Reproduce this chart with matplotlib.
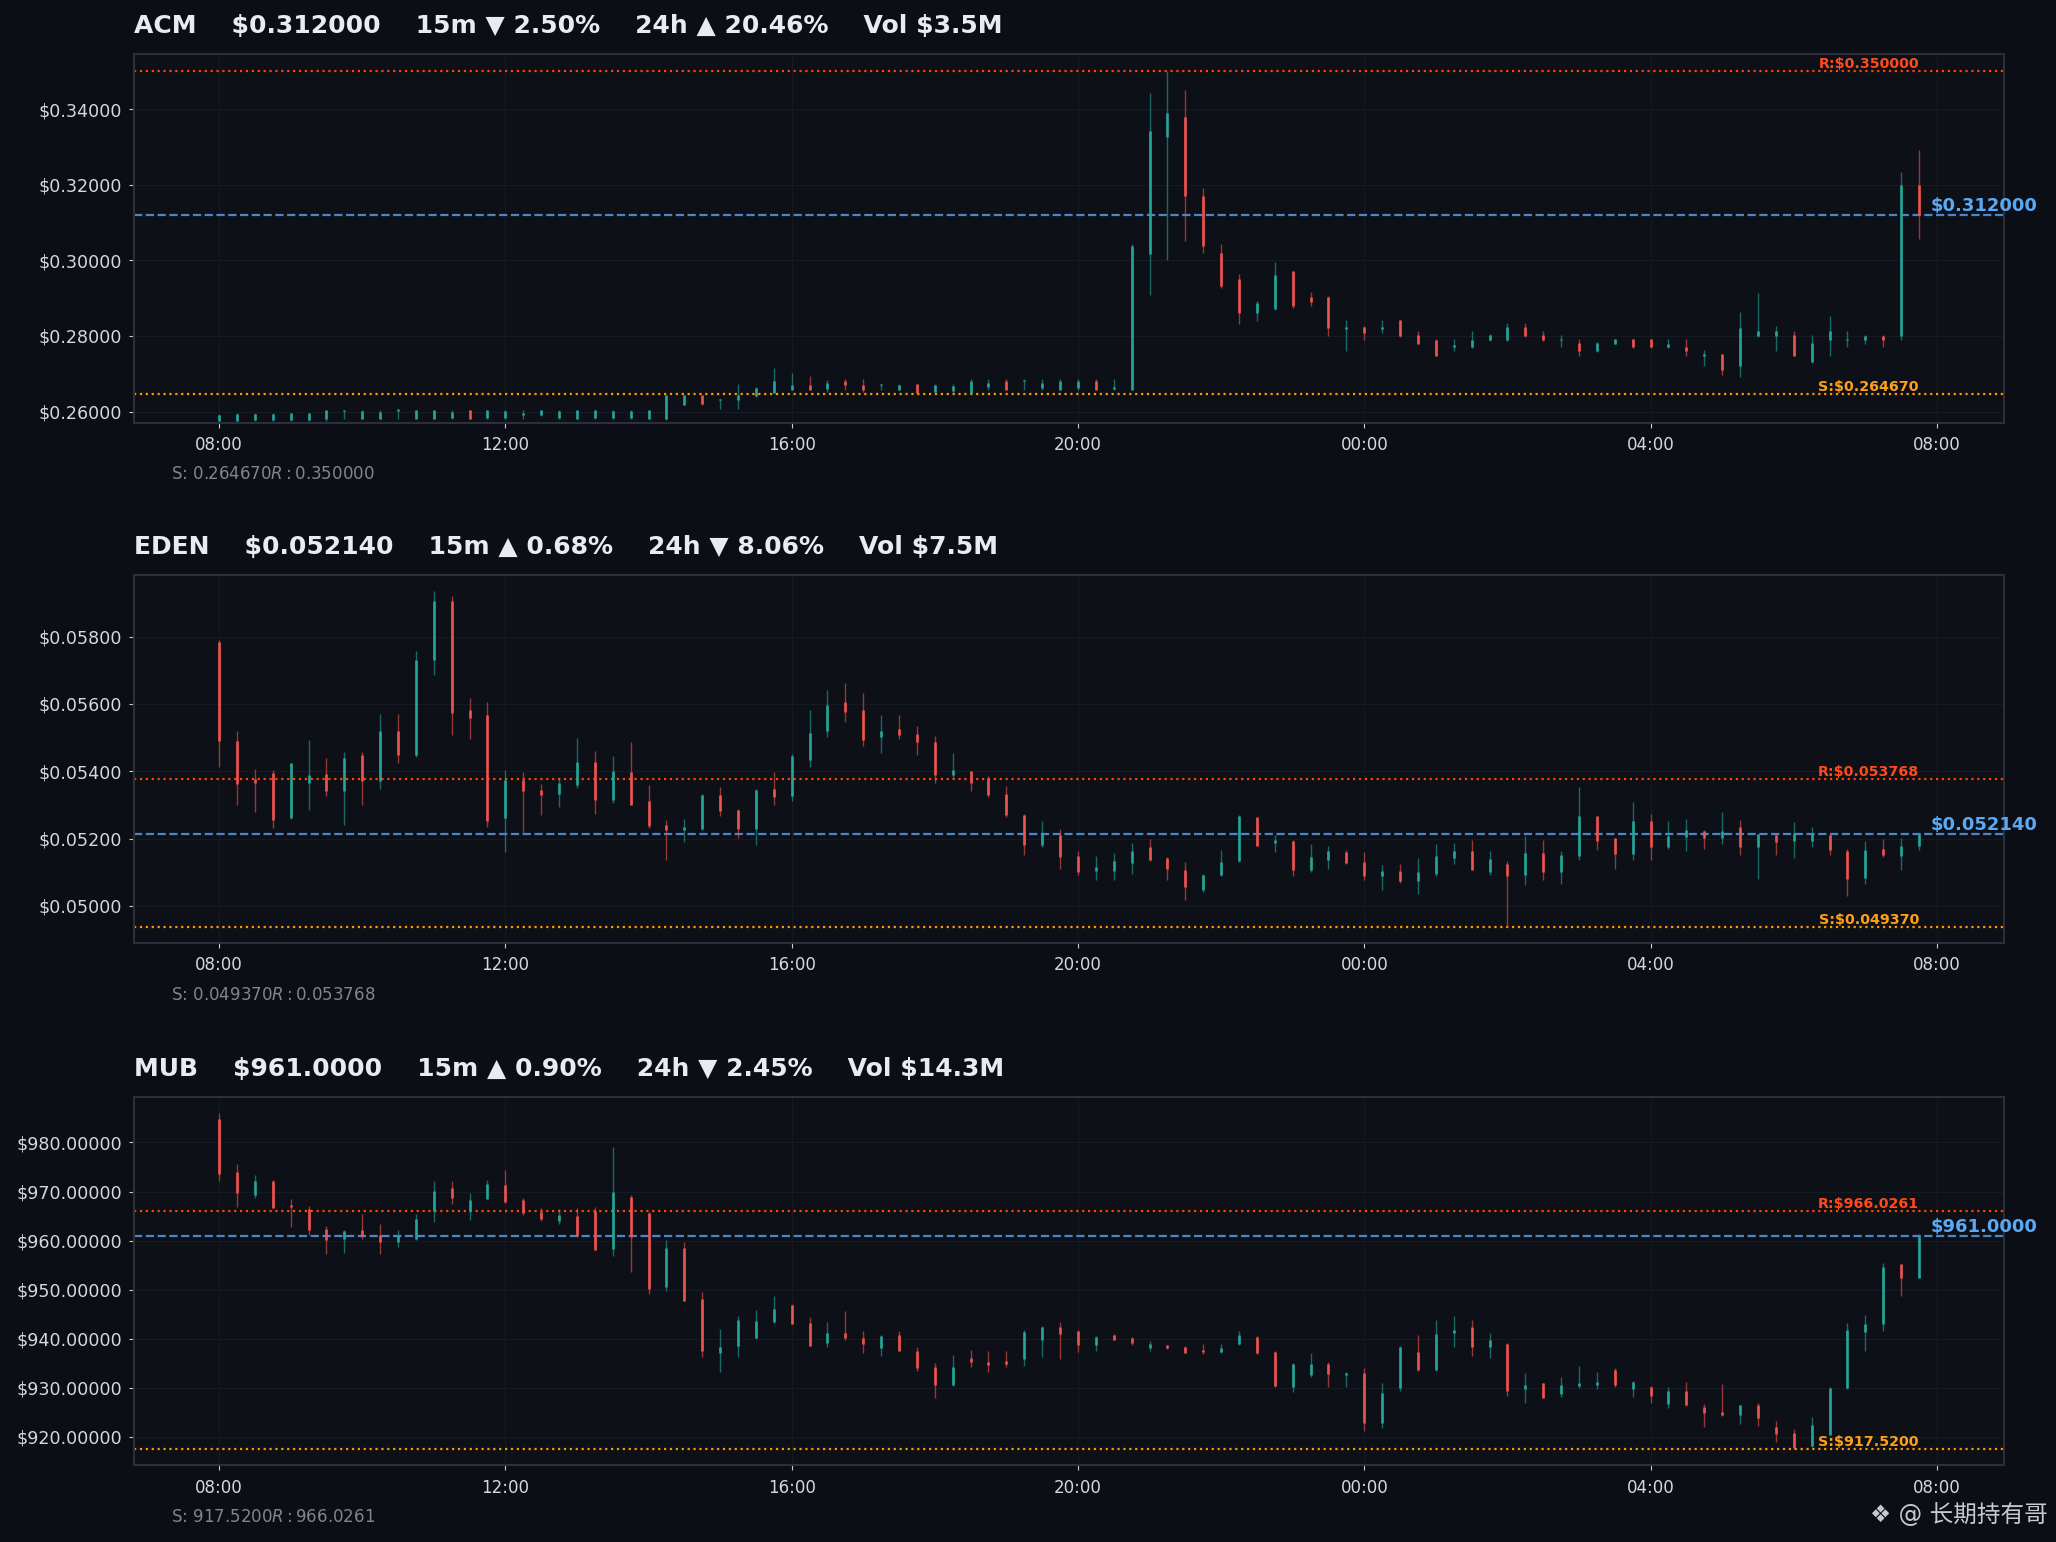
import numpy as np
import pandas as pd
import matplotlib
matplotlib.use('Agg')
import matplotlib.pyplot as plt
import matplotlib.dates as mdates
from matplotlib.ticker import MultipleLocator, FuncFormatter

BG = '#0b0e14'
AX_BG = '#0d1017'
GREEN = '#26a69a'
RED = '#ef5350'

times = pd.date_range('2024-01-01 08:00', periods=96, freq='15min')

# ---- ACM ----
acm_open = [0.2575, 0.2576, 0.2577, 0.2577, 0.2578, 0.2578, 0.2580, 0.2601, 0.2580, 0.2581,
            0.2602, 0.2581, 0.2581, 0.2582, 0.2603, 0.2582, 0.2582, 0.2592, 0.2590, 0.2582,
            0.2580, 0.2582, 0.2582, 0.2582, 0.2580, 0.2580, 0.2618, 0.2643, 0.2630, 0.2630,
            0.2640, 0.2649, 0.2658, 0.2671, 0.2660, 0.2682, 0.2671, 0.2670, 0.2658, 0.2673,
            0.2652, 0.2655, 0.2649, 0.2665, 0.2682, 0.2680, 0.2662, 0.2658, 0.2662, 0.2682,
            0.2660, 0.2658, 0.3017, 0.3327, 0.3379, 0.3171, 0.3019, 0.2951, 0.2861, 0.2871,
            0.2971, 0.2903, 0.2903, 0.2818, 0.2823, 0.2819, 0.2841, 0.2803, 0.2790, 0.2770,
            0.2770, 0.2788, 0.2788, 0.2823, 0.2803, 0.2788, 0.2781, 0.2759, 0.2780, 0.2792,
            0.2792, 0.2772, 0.2770, 0.2748, 0.2751, 0.2720, 0.2799, 0.2799, 0.2803, 0.2730,
            0.2788, 0.2789, 0.2788, 0.2801, 0.2799, 0.3200]
acm_high = [0.2594, 0.2595, 0.2596, 0.2596, 0.2596, 0.2596, 0.2605, 0.2605, 0.2605, 0.2605,
            0.2605, 0.2604, 0.2605, 0.2605, 0.2605, 0.2605, 0.2605, 0.2605, 0.2605, 0.2605,
            0.2605, 0.2605, 0.2605, 0.2605, 0.2605, 0.2645, 0.2645, 0.2645, 0.2634, 0.2674,
            0.2664, 0.2714, 0.2703, 0.2695, 0.2684, 0.2685, 0.2685, 0.2674, 0.2674, 0.2674,
            0.2674, 0.2674, 0.2685, 0.2685, 0.2685, 0.2685, 0.2685, 0.2685, 0.2685, 0.2685,
            0.2685, 0.3043, 0.3442, 0.3500, 0.3452, 0.3191, 0.3043, 0.2965, 0.2893, 0.2995,
            0.2973, 0.2915, 0.2905, 0.2843, 0.2825, 0.2843, 0.2843, 0.2814, 0.2792, 0.2792,
            0.2814, 0.2805, 0.2834, 0.2834, 0.2814, 0.2803, 0.2792, 0.2784, 0.2793, 0.2793,
            0.2793, 0.2792, 0.2792, 0.2764, 0.2753, 0.2863, 0.2914, 0.2825, 0.2814, 0.2803,
            0.2854, 0.2814, 0.2803, 0.2803, 0.3233, 0.3292]
acm_low = [0.2574, 0.2574, 0.2575, 0.2575, 0.2575, 0.2575, 0.2575, 0.2579, 0.2579, 0.2579,
           0.2579, 0.2579, 0.2579, 0.2579, 0.2579, 0.2579, 0.2579, 0.2579, 0.2589, 0.2579,
           0.2579, 0.2579, 0.2579, 0.2579, 0.2579, 0.2578, 0.2617, 0.2617, 0.2608, 0.2608,
           0.2639, 0.2648, 0.2657, 0.2657, 0.2651, 0.2658, 0.2651, 0.2658, 0.2657, 0.2649,
           0.2649, 0.2649, 0.2648, 0.2658, 0.2658, 0.2658, 0.2658, 0.2657, 0.2658, 0.2658,
           0.2658, 0.2657, 0.2909, 0.3000, 0.3050, 0.3019, 0.2928, 0.2832, 0.2839, 0.2868,
           0.2875, 0.2878, 0.2799, 0.2759, 0.2788, 0.2808, 0.2797, 0.2778, 0.2746, 0.2759,
           0.2769, 0.2787, 0.2787, 0.2797, 0.2787, 0.2770, 0.2748, 0.2757, 0.2778, 0.2768,
           0.2768, 0.2769, 0.2748, 0.2720, 0.2698, 0.2691, 0.2797, 0.2759, 0.2746, 0.2729,
           0.2748, 0.2770, 0.2780, 0.2770, 0.2788, 0.3057]
acm_close = [0.2592, 0.2593, 0.2594, 0.2594, 0.2595, 0.2595, 0.2604, 0.2603, 0.2602, 0.2600,
             0.2603, 0.2603, 0.2604, 0.2600, 0.2581, 0.2603, 0.2601, 0.2593, 0.2603, 0.2602,
             0.2604, 0.2603, 0.2601, 0.2602, 0.2604, 0.2643, 0.2643, 0.2619, 0.2632, 0.2643,
             0.2663, 0.2682, 0.2671, 0.2658, 0.2675, 0.2669, 0.2658, 0.2672, 0.2671, 0.2649,
             0.2670, 0.2668, 0.2682, 0.2675, 0.2658, 0.2682, 0.2676, 0.2682, 0.2680, 0.2658,
             0.2665, 0.3037, 0.3341, 0.3389, 0.3169, 0.3039, 0.2932, 0.2861, 0.2887, 0.2962,
             0.2878, 0.2891, 0.2821, 0.2824, 0.2808, 0.2821, 0.2799, 0.2780, 0.2748, 0.2777,
             0.2790, 0.2803, 0.2823, 0.2799, 0.2788, 0.2792, 0.2759, 0.2781, 0.2792, 0.2770,
             0.2770, 0.2778, 0.2759, 0.2753, 0.2711, 0.2821, 0.2812, 0.2812, 0.2748, 0.2781,
             0.2812, 0.2792, 0.2799, 0.2788, 0.3200, 0.3120]

# ---- EDEN ----
eden_open = [0.057829, 0.054907, 0.053760, 0.053946, 0.052610, 0.053649, 0.053926, 0.053401, 0.054491, 0.053699,
             0.055204, 0.054471, 0.057294, 0.059047, 0.055808, 0.055680, 0.052610, 0.053748, 0.053430, 0.053322,
             0.053580, 0.054283, 0.053134, 0.053966, 0.053104, 0.052410, 0.052243, 0.052292, 0.053302, 0.052857,
             0.052292, 0.053460, 0.053253, 0.054323, 0.055204, 0.056046, 0.055828, 0.055006, 0.055254, 0.055115,
             0.054877, 0.053897, 0.053996, 0.053798, 0.053332, 0.052708, 0.051817, 0.052114, 0.051470, 0.051044,
             0.051044, 0.051272, 0.051738, 0.051420, 0.051074, 0.050480, 0.050925, 0.051321, 0.052640, 0.051866,
             0.051916, 0.051074, 0.051370, 0.051590, 0.051302, 0.050876, 0.051044, 0.050727, 0.050955, 0.051420,
             0.051638, 0.050995, 0.051242, 0.050925, 0.051569, 0.050995, 0.051470, 0.052659, 0.052015, 0.051550,
             0.052510, 0.051738, 0.052035, 0.052213, 0.052015, 0.052332, 0.051738, 0.052114, 0.051916, 0.051916,
             0.052114, 0.051638, 0.050826, 0.051690, 0.051490, 0.051787]
eden_high = [0.057908, 0.055204, 0.054075, 0.054045, 0.054260, 0.054937, 0.054402, 0.054580, 0.054580, 0.055709,
             0.055709, 0.057582, 0.059364, 0.059216, 0.056185, 0.056066, 0.054045, 0.053966, 0.053629, 0.053798,
             0.054996, 0.054610, 0.054461, 0.054877, 0.053600, 0.052560, 0.052590, 0.053332, 0.053540, 0.052886,
             0.053460, 0.053986, 0.054520, 0.055828, 0.056423, 0.056630, 0.056333, 0.055680, 0.055680, 0.055353,
             0.055056, 0.054550, 0.054020, 0.053867, 0.053570, 0.052738, 0.052530, 0.052292, 0.051619, 0.051490,
             0.051569, 0.051866, 0.051995, 0.051450, 0.051302, 0.050955, 0.051668, 0.052708, 0.052650, 0.052114,
             0.051965, 0.051836, 0.051767, 0.051668, 0.051600, 0.051223, 0.051252, 0.051420, 0.051836, 0.051866,
             0.051965, 0.051619, 0.051341, 0.052064, 0.051945, 0.051640, 0.053530, 0.052679, 0.052030, 0.053075,
             0.052738, 0.052530, 0.052590, 0.052262, 0.052787, 0.052560, 0.052150, 0.052134, 0.052490, 0.052342,
             0.052130, 0.051698, 0.051935, 0.051985, 0.052015, 0.052150]
eden_low = [0.054115, 0.052985, 0.052777, 0.052302, 0.052590, 0.052837, 0.053253, 0.052391, 0.053005, 0.053481,
            0.054234, 0.054412, 0.056868, 0.055066, 0.054947, 0.052332, 0.051589, 0.052163, 0.052688, 0.052926,
            0.053500, 0.052728, 0.053055, 0.053000, 0.052302, 0.051351, 0.051886, 0.052240, 0.052659, 0.052005,
            0.051797, 0.052985, 0.053104, 0.054115, 0.055006, 0.055452, 0.054739, 0.054531, 0.054947, 0.054471,
            0.053639, 0.053778, 0.053401, 0.053223, 0.052629, 0.051500, 0.051738, 0.051104, 0.050906, 0.050757,
            0.050777, 0.050955, 0.051340, 0.050757, 0.050182, 0.050400, 0.050896, 0.051300, 0.051767, 0.051590,
            0.050876, 0.050995, 0.051104, 0.051250, 0.050757, 0.050480, 0.050678, 0.050350, 0.050876, 0.051252,
            0.051060, 0.050925, 0.049370, 0.050628, 0.050777, 0.050658, 0.051351, 0.051648, 0.051104, 0.051351,
            0.051370, 0.051690, 0.051619, 0.051690, 0.051836, 0.051520, 0.050797, 0.051500, 0.051420, 0.051738,
            0.051500, 0.050281, 0.050658, 0.051450, 0.051054, 0.051650]
eden_close = [0.054887, 0.053629, 0.053650, 0.052540, 0.054243, 0.053897, 0.053401, 0.054402, 0.053699, 0.055204,
              0.054471, 0.057314, 0.059047, 0.055729, 0.055590, 0.052510, 0.053748, 0.053401, 0.053302, 0.053649,
              0.054283, 0.053134, 0.053996, 0.053005, 0.052381, 0.052243, 0.052342, 0.053302, 0.052807, 0.052292,
              0.053451, 0.053230, 0.054441, 0.055135, 0.055977, 0.055749, 0.054937, 0.055204, 0.055066, 0.054858,
              0.053897, 0.054045, 0.053649, 0.053302, 0.052708, 0.051817, 0.052163, 0.051440, 0.050995, 0.051143,
              0.051321, 0.051619, 0.051351, 0.051104, 0.050549, 0.050925, 0.051302, 0.052659, 0.051787, 0.051965,
              0.051074, 0.051450, 0.051619, 0.051272, 0.050876, 0.051044, 0.050727, 0.050995, 0.051490, 0.051619,
              0.051074, 0.051391, 0.050896, 0.051569, 0.050995, 0.051520, 0.052659, 0.051916, 0.051550, 0.052510,
              0.051738, 0.052064, 0.052262, 0.052015, 0.052213, 0.051738, 0.052134, 0.051886, 0.052163, 0.052163,
              0.051668, 0.050797, 0.051668, 0.051520, 0.051787, 0.052140]

# ---- MUB ----
mub_open = [984.82, 973.96, 969.21, 972.13, 967.18, 966.37, 962.43, 960.40, 962.09, 961.07,
            959.72, 960.40, 966.03, 970.71, 966.03, 968.54, 971.25, 968.33, 965.82, 964.06,
            965.01, 966.00, 958.36, 968.88, 965.69, 950.56, 958.56, 948.18, 937.19, 938.55,
            940.18, 943.43, 946.96, 943.30, 939.23, 941.26, 940.18, 938.21, 940.86, 937.53,
            934.28, 930.55, 936.18, 935.29, 935.50, 935.97, 939.70, 942.42, 941.60, 938.69,
            940.72, 940.18, 938.21, 938.69, 938.35, 937.67, 937.33, 939.03, 940.38, 937.33,
            930.21, 932.58, 934.95, 932.58, 933.06, 922.74, 929.87, 937.33, 933.60, 941.26,
            942.42, 938.35, 939.03, 929.66, 930.89, 928.65, 930.41, 930.55, 933.73, 929.66,
            930.21, 926.61, 929.39, 926.14, 925.12, 924.44, 926.47, 922.00, 920.71, 918.13,
            920.37, 929.87, 941.40, 943.10, 955.17, 952.43]
mub_high = [986.04, 975.59, 973.35, 972.34, 968.47, 967.04, 962.97, 962.09, 965.42, 963.38,
            962.09, 965.42, 972.13, 972.13, 969.69, 972.34, 974.37, 968.67, 966.64, 966.50,
            966.64, 966.84, 979.05, 969.21, 965.80, 960.06, 959.72, 949.54, 942.08, 944.66,
            945.81, 948.73, 947.17, 944.45, 943.43, 945.67, 941.60, 940.72, 941.60, 938.35,
            935.16, 936.65, 937.80, 937.53, 937.53, 941.74, 942.62, 943.43, 941.74, 940.59,
            940.93, 940.38, 939.57, 938.82, 938.55, 939.03, 938.89, 941.60, 940.59, 937.53,
            935.09, 937.13, 935.29, 933.26, 933.94, 931.02, 938.55, 940.86, 943.77, 944.66,
            943.77, 941.20, 939.23, 933.06, 931.02, 932.24, 934.48, 933.26, 933.94, 931.43,
            930.41, 930.21, 931.23, 926.68, 930.75, 926.50, 926.95, 923.29, 921.59, 924.10,
            930.21, 943.23, 944.79, 955.44, 955.31, 961.41]
mub_low = [972.13, 966.84, 968.67, 966.60, 962.77, 961.07, 957.27, 957.48, 960.40, 957.27,
           958.70, 960.06, 963.79, 967.52, 964.26, 968.50, 967.72, 965.28, 964.06, 963.38,
           960.73, 958.10, 956.87, 953.61, 949.20, 949.74, 947.60, 936.31, 933.26, 936.31,
           940.00, 943.30, 943.00, 938.50, 938.35, 939.84, 937.13, 936.52, 937.47, 933.46,
           927.83, 930.41, 934.28, 933.26, 934.28, 934.48, 936.31, 935.97, 937.33, 937.53,
           939.80, 938.82, 937.53, 938.00, 937.10, 936.99, 937.19, 938.82, 936.99, 930.21,
           929.05, 932.24, 930.07, 930.07, 921.25, 921.73, 929.39, 933.46, 933.40, 938.35,
           936.52, 936.11, 928.37, 926.81, 927.90, 928.17, 929.87, 929.66, 930.07, 928.17,
           926.95, 925.93, 926.27, 922.07, 924.30, 922.54, 922.27, 919.01, 917.52, 918.00,
           920.30, 929.80, 937.53, 941.53, 948.66, 952.40]
mub_close = [973.62, 969.76, 972.13, 966.64, 966.84, 962.09, 960.06, 961.89, 960.94, 959.72,
             960.87, 964.47, 970.10, 968.67, 968.20, 971.45, 967.86, 965.69, 964.47, 965.28,
             960.87, 958.16, 969.89, 960.73, 950.22, 958.50, 947.71, 937.53, 938.35, 943.91,
             943.57, 946.15, 943.10, 938.55, 941.26, 940.18, 939.03, 940.52, 937.53, 933.94,
             930.55, 934.28, 935.29, 934.75, 934.95, 941.40, 942.42, 941.06, 938.82, 940.38,
             939.84, 939.23, 938.89, 938.21, 937.19, 937.33, 938.21, 940.72, 937.19, 930.41,
             934.95, 934.95, 932.72, 933.06, 922.88, 928.98, 938.35, 933.60, 941.06, 941.74,
             938.35, 939.70, 929.39, 930.55, 927.97, 930.55, 930.89, 931.23, 930.55, 931.23,
             928.37, 929.39, 926.47, 924.92, 924.44, 926.47, 923.76, 920.50, 917.65, 922.41,
             930.00, 941.88, 942.96, 954.63, 952.43, 961.00]

symbols = ['ACM', 'EDEN', 'MUB']
headers = ['ACM    \\$0.312000    15m ▼ 2.50%    24h ▲ 20.46%    Vol \\$3.5M',
           'EDEN    \\$0.052140    15m ▲ 0.68%    24h ▼ 8.06%    Vol \\$7.5M',
           'MUB    \\$961.0000    15m ▲ 0.90%    24h ▼ 2.45%    Vol \\$14.3M']
supports = [0.264670, 0.049370, 917.5200]
resistances = [0.350000, 0.053768, 966.0261]
last_prices = [0.312000, 0.052140, 961.0000]
price_fmt = ['%.6f', '%.6f', '%.4f']
y_limits = [(0.2571, 0.3546), (0.04889, 0.05984), (914.2, 989.3)]
y_steps = [0.02, 0.002, 10]

# axes boxes (left, bottom, width, height) in figure fractions
panel_boxes = [(0.0652, 0.7260, 0.9095, 0.2390),
               (0.0652, 0.3883, 0.9095, 0.2390),
               (0.0652, 0.0497, 0.9095, 0.2390)]


def drawCandles(ax, x, o, h, l, c):
    o, h, l, c = [np.asarray(v, dtype=float) for v in (o, h, l, c)]
    up = c >= o
    colors = np.where(up, GREEN, RED)
    ax.vlines(x, l, h, colors=colors, lw=1.0, alpha=0.6, zorder=3)
    lo = np.minimum(o, c)
    hi = np.maximum(o, c)
    minh = (h.max() - l.min()) * 0.004
    hi = np.maximum(hi, lo + minh)
    ax.vlines(x, lo, hi, colors=colors, lw=1.9, zorder=4)


def plotPanel(ax, k, o, h, l, c):
    x = mdates.date2num(times)
    ax.set_facecolor(AX_BG)
    drawCandles(ax, x, o, h, l, c)

    r, s, p = resistances[k], supports[k], last_prices[k]
    fmt = price_fmt[k]
    ax.axhline(r, color='#ff4500', ls=':', lw=1.6, zorder=2)
    ax.axhline(s, color='#ff9800', ls=':', lw=1.6, zorder=2)
    ax.axhline(p, color='#4a86c8', ls='--', lw=1.6, zorder=2)

    ax.text(x[-1], r, 'R:$' + fmt % r, color='#ff4a1a', fontsize=10.3,
            fontweight='bold', ha='right', va='bottom', zorder=5)
    ax.text(x[-1], s, 'S:$' + fmt % s, color='#ff9f1a', fontsize=10.3,
            fontweight='bold', ha='right', va='bottom', zorder=5)
    ax.text(x[-1] + 10 / 1440.0, p, '\\$' + fmt % p, color='#5aa9f5', fontsize=13,
            fontweight='bold', ha='left', va='bottom', zorder=5, clip_on=False)

    ax.set_xlim(x[0] - (x[-1] - x[0]) * 0.05, x[-1] + (x[-1] - x[0]) * 0.05)
    ax.set_ylim(*y_limits[k])
    ax.xaxis.set_major_locator(mdates.HourLocator(byhour=[0, 4, 8, 12, 16, 20]))
    ax.xaxis.set_major_formatter(mdates.DateFormatter('%H:%M'))
    ax.yaxis.set_major_locator(MultipleLocator(y_steps[k]))
    ax.yaxis.set_major_formatter(FuncFormatter(lambda v, pos: '$%.5f' % v))

    ax.tick_params(axis='x', colors='#c9cdd4', labelsize=12, labelcolor='#d5d8de', pad=6)
    ax.tick_params(axis='y', colors='#c9cdd4', labelsize=12.6, labelcolor='#d5d8de', pad=5)
    for sp in ax.spines.values():
        sp.set_color('#2b2f3a')
        sp.set_linewidth(1.5)
    ax.grid(True, color='#161a22', lw=0.8, zorder=0)

    ax.set_title(headers[k], loc='left', color='#e8ebf0', fontsize=18,
                 fontweight='bold', pad=15)
    # mathtext eats the text between the two dollar signs here
    sub = 'S: $' + fmt % s + '    R: $' + fmt % r
    ax.text(0.02, -0.14, sub, transform=ax.transAxes,
            color='#80858e', fontsize=12, va='center', ha='left')


if __name__ == '__main__':
    fig = plt.figure(figsize=(20.56, 15.42), dpi=100, facecolor=BG)
    data = [(acm_open, acm_high, acm_low, acm_close),
            (eden_open, eden_high, eden_low, eden_close),
            (mub_open, mub_high, mub_low, mub_close)]
    for k in range(3):
        ax = fig.add_axes(panel_boxes[k])
        plotPanel(ax, k, *data[k])

    fig.text(0.996, 0.0175, '❖ @ 长期持有哥', ha='right', va='center',
             color='#c8c9cc', fontsize=17,
             family=['DejaVu Sans', 'Noto Sans CJK SC'])

    fig.savefig('out.png', dpi=100, facecolor=BG)
